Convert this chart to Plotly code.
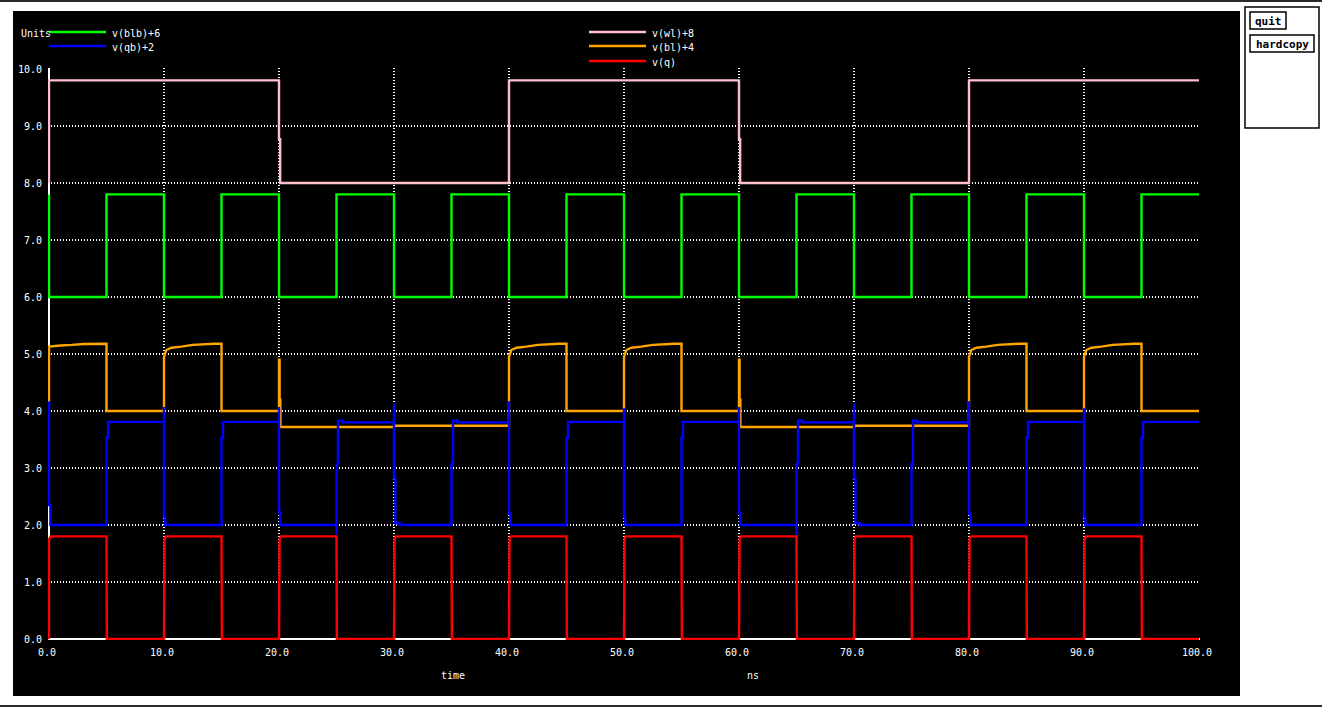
import plotly.graph_objects as go

W, H = 1322, 707
# plot area is one pixel wider than the data on each side, lines get clipped at the edge otherwise
L, R, T, B = 48, 1200, 68, 640

x_ticks = [0, 10, 20, 30, 40, 50, 60, 70, 80, 90, 100]
y_ticks = [0, 1, 2, 3, 4, 5, 6, 7, 8, 9, 10]

# v(wl)+8
wl_t = [0, 0, 20, 20, 20.1, 20.1, 40, 40, 60, 60, 60.1, 60.1, 80, 80, 100]
wl_v = [8.0, 9.8, 9.8, 8.77, 8.77, 8.0, 8.0, 9.8, 9.8, 8.77, 8.77, 8.0, 8.0, 9.8, 9.8]

# v(blb)+6
blb_t = [0, 0, 5, 5, 10, 10, 15, 15, 20, 20, 25, 25, 30, 30, 35, 35, 40, 40, 45, 45, 50, 50,
         55, 55, 60, 60, 65, 65, 70, 70, 75, 75, 80, 80, 85, 85, 90, 90, 95, 95, 100]
blb_v = [7.8, 6.0, 6.0, 7.8, 7.8, 6.0, 6.0, 7.8, 7.8, 6.0, 6.0, 7.8, 7.8, 6.0, 6.0, 7.8, 7.8, 6.0, 6.0, 7.8, 7.8, 6.0,
         6.0, 7.8, 7.8, 6.0, 6.0, 7.8, 7.8, 6.0, 6.0, 7.8, 7.8, 6.0, 6.0, 7.8, 7.8, 6.0, 6.0, 7.8, 7.8]

# v(bl)+4
bl_t = [0, 0, 1, 2, 3, 5, 5, 10,
        10, 10.2, 10.65, 11.5, 12.5, 14.4, 15, 15, 20,
        20, 20.05, 20.05, 20.12, 20.12, 30, 30, 40,
        40, 40.2, 40.65, 41.5, 42.5, 44.4, 45, 45, 50,
        50, 50.2, 50.65, 51.5, 52.5, 54.4, 55, 55, 60,
        60, 60.05, 60.05, 60.12, 60.12, 70, 70, 80,
        80, 80.2, 80.65, 81.5, 82.5, 84.4, 85, 85, 90,
        90, 90.2, 90.65, 91.5, 92.5, 94.4, 95, 95, 100]
bl_v = [4.17, 5.13, 5.15, 5.16, 5.175, 5.18, 4.0, 4.0,
        4.95, 5.07, 5.11, 5.13, 5.16, 5.18, 5.18, 4.0, 4.0,
        4.9, 4.9, 4.2, 4.2, 3.72, 3.72, 3.74, 3.74,
        4.95, 5.07, 5.11, 5.13, 5.16, 5.18, 5.18, 4.0, 4.0,
        4.95, 5.07, 5.11, 5.13, 5.16, 5.18, 5.18, 4.0, 4.0,
        4.9, 4.9, 4.2, 4.2, 3.72, 3.72, 3.74, 3.74,
        4.95, 5.07, 5.11, 5.13, 5.16, 5.18, 5.18, 4.0, 4.0,
        4.95, 5.07, 5.11, 5.13, 5.16, 5.18, 5.18, 4.0, 4.0]

# v(qb)+2
qb_t = [0, 0, 0.12, 0.12, 5, 5, 5.13, 5.13, 10,
        10, 10, 10.1, 10.1, 15, 15, 15.13, 15.13, 20,
        20, 20, 20.1, 20.1, 25, 25, 25, 25.13, 25.13, 25.5, 25.5, 30,
        30, 30, 30.12, 30.12, 30.5, 30.5, 35, 35, 35.13, 35.13, 35.5, 35.5, 40,
        40, 40, 40.12, 40.12, 45, 45, 45.13, 45.13, 50,
        50, 50, 50.1, 50.1, 55, 55, 55.13, 55.13, 60,
        60, 60, 60.1, 60.1, 65, 65, 65, 65.13, 65.13, 65.5, 65.5, 70,
        70, 70, 70.12, 70.12, 70.5, 70.5, 75, 75, 75.13, 75.13, 75.5, 75.5, 80,
        80, 80, 80.12, 80.12, 85, 85, 85.13, 85.13, 90,
        90, 90, 90.1, 90.1, 95, 95, 95.13, 95.13, 100]
qb_v = [4.17, 2.35, 2.35, 2.0, 2.0, 3.53, 3.53, 3.81, 3.81,
        4.07, 2.14, 2.14, 2.0, 2.0, 3.53, 3.53, 3.81, 3.81,
        4.07, 2.22, 2.22, 2.0, 2.0, 1.83, 3.07, 3.07, 3.83, 3.83, 3.8, 3.8,
        4.13, 2.82, 2.82, 2.03, 2.03, 2.0, 2.0, 3.07, 3.07, 3.83, 3.83, 3.8, 3.8,
        4.17, 2.2, 2.2, 2.0, 2.0, 3.53, 3.53, 3.81, 3.81,
        4.05, 2.14, 2.14, 2.0, 2.0, 3.53, 3.53, 3.81, 3.81,
        4.07, 2.22, 2.22, 2.0, 2.0, 1.83, 3.07, 3.07, 3.83, 3.83, 3.8, 3.8,
        4.13, 2.82, 2.82, 2.03, 2.03, 2.0, 2.0, 3.07, 3.07, 3.83, 3.83, 3.8, 3.8,
        4.17, 2.2, 2.2, 2.0, 2.0, 3.53, 3.53, 3.81, 3.81,
        4.05, 2.14, 2.14, 2.0, 2.0, 3.53, 3.53, 3.81, 3.81]

# v(q)
q_t = [0, 0, 0.15, 5, 5.03, 10, 10.05, 10.15, 15, 15.03, 20, 20.05, 20.15, 25, 25.03,
       30, 30.05, 30.15, 35, 35.03, 40, 40.05, 40.15, 45, 45.03, 50, 50.05, 50.15, 55, 55.03,
       60, 60.05, 60.15, 65, 65.03, 70, 70.05, 70.15, 75, 75.03, 80, 80.05, 80.15, 85, 85.03,
       90, 90.05, 90.15, 95, 95.03, 100]
q_v = [0, 1.75, 1.8, 1.8, 0, 0, 1.75, 1.8, 1.8, 0, 0, 1.75, 1.8, 1.8, 0,
       0, 1.75, 1.8, 1.8, 0, 0, 1.75, 1.8, 1.8, 0, 0, 1.75, 1.8, 1.8, 0,
       0, 1.75, 1.8, 1.8, 0, 0, 1.75, 1.8, 1.8, 0, 0, 1.75, 1.8, 1.8, 0,
       0, 1.75, 1.8, 1.8, 0, 0]

PINK = "#ffc0cb"
GREEN = "#00ff00"
ORANGE = "#ffa500"
BLUE = "#0000ff"
RED = "#ff0000"
MONO = "DejaVu Sans Mono"


# pixel position -> paper coords of the plot area
def px(x):
    return (x - L) / (R - L)


def py(y):
    return (B - y) / (B - T)


def box(x0, y0, x1, y1, fill, line=None, width=0, layer="below"):
    return dict(type="rect", xref="paper", yref="paper", x0=px(x0), x1=px(x1), y0=py(y0), y1=py(y1),
                fillcolor=fill, line=dict(color=line, width=width), layer=layer)


def label(x, y, text, color="white", anchor="left", size=10, family=MONO):
    return dict(xref="paper", yref="paper", x=px(x), y=py(y), text=text, showarrow=False, xanchor=anchor,
                yanchor="middle", font=dict(family=family, size=size, color=color))


fig = go.Figure()
for name, t, v, color in [("v(wl)+8", wl_t, wl_v, PINK), ("v(blb)+6", blb_t, blb_v, GREEN),
                          ("v(bl)+4", bl_t, bl_v, ORANGE), ("v(qb)+2", qb_t, qb_v, BLUE),
                          ("v(q)", q_t, q_v, RED)]:
    fig.add_trace(go.Scatter(x=t, y=v, name=name, mode="lines",
                             line=dict(color=color, width=2.4, simplify=False)))

shapes = [
    box(0, 0, W, 2, "#2a2a2e"),
    box(0, 705, W, H, "#2a2a2e"),
    box(13, 11, 1240, 696, "black"),
    box(1245, 7, 1319, 128, "white", "black", 1.5),
    box(1250, 12, 1286, 29, "white", "black", 1.5),
    box(1250, 35, 1314, 52, "white", "black", 1.5),
]
# legend lines
for x0, y0, color in [(49, 32, GREEN), (49, 46, BLUE), (589, 32, PINK), (589, 46, ORANGE), (589, 61, RED)]:
    shapes.append(dict(type="line", xref="paper", yref="paper", x0=px(x0), x1=px(x0 + 57), y0=py(y0), y1=py(y0),
                       line=dict(color=color, width=2.4)))

annotations = [
    label(19, 33.5, "Units"),
    label(110, 33.5, "v(blb)+6"),
    label(110, 47.5, "v(qb)+2"),
    label(650, 33.5, "v(wl)+8"),
    label(650, 47.5, "v(bl)+4"),
    label(650, 62.5, "v(q)"),
    label(453, 675, "time", anchor="center"),
    label(753, 675, "ns", anchor="center"),
    label(1268, 21, "<b>quit</b>", color="black", anchor="center", size=11),
    label(1282, 44, "<b>hardcopy</b>", color="black", anchor="center", size=11),
]

fig.update_layout(
    width=W, height=H,
    margin=dict(l=L, r=W - R, t=T, b=H - B, pad=0),
    paper_bgcolor="white",
    plot_bgcolor="black",
    showlegend=False,
    shapes=shapes,
    annotations=annotations,
    font=dict(family=MONO, size=10, color="white"),
)
grid = dict(showgrid=True, gridcolor="white", gridwidth=2, griddash="1px,2px", zeroline=True,
            zerolinecolor="white", zerolinewidth=2, showline=False, ticks="outside", ticklen=3,
            tickcolor="black", tickformat=".1f", tickfont=dict(family=MONO, size=10, color="white"))
fig.update_xaxes(range=[-0.087, 100.087], tickvals=x_ticks, ticklabelshift=-2, **grid)
fig.update_yaxes(range=[-0.0175, 10.0175], tickvals=y_ticks, **grid)

fig.write_html("out.html", config=dict(displayModeBar=False), post_script="document.body.style.margin='0';")
